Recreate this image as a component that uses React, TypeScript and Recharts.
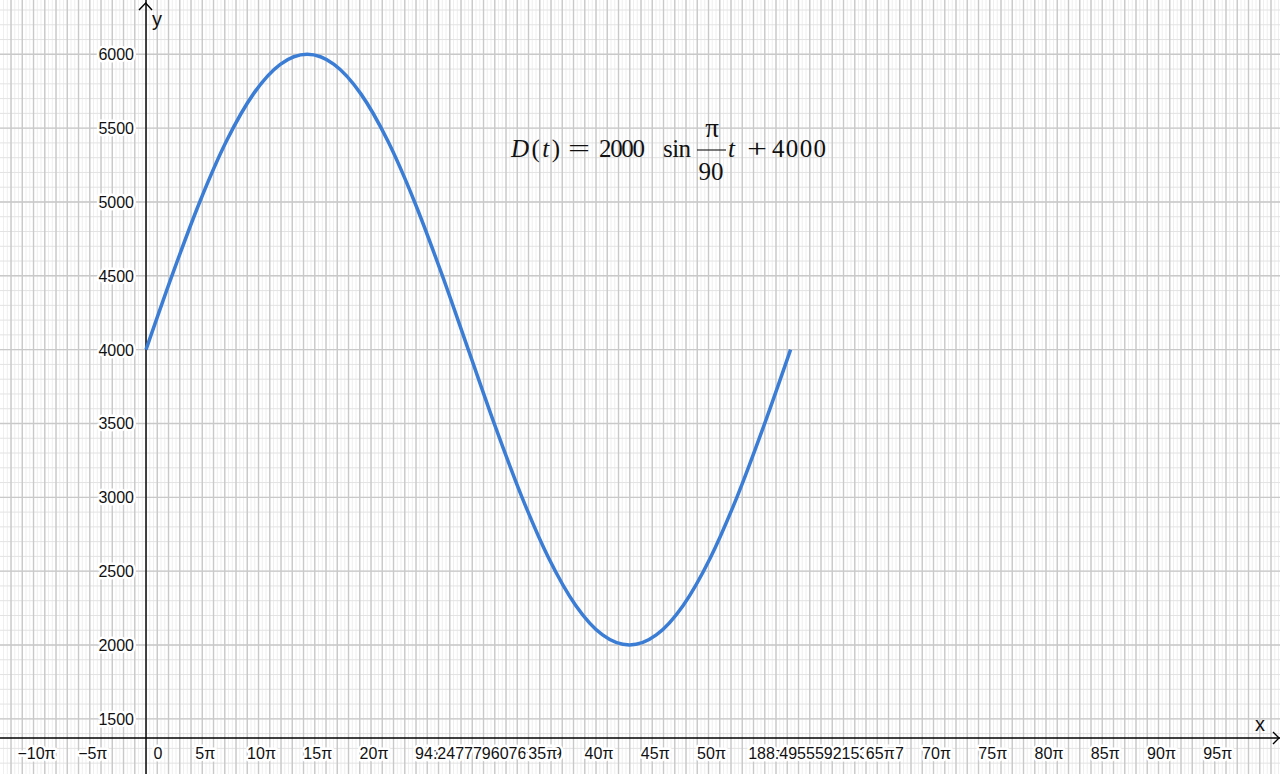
import React from 'react';
import {
  LineChart,
  Line,
  XAxis,
  YAxis,
  ReferenceLine,
  ReferenceDot,
} from 'recharts';

const PI = Math.PI;

// t values and D(t)
const tValues = [0, 7.5, 15, 22.5, 30, 37.5, 45, 52.5, 60, 67.5, 75, 82.5, 90, 97.5, 105, 112.5, 120, 127.5, 135, 142.5, 150, 157.5, 165, 172.5, 180];
const dValues = [4000, 4518, 5000, 5414, 5732, 5932, 6000, 5932, 5732, 5414, 5000, 4518, 4000, 3482, 3000, 2586, 2268, 2068, 2000, 2068, 2268, 2586, 3000, 3482, 4000];

// x tick labels are multiples of π
const xTickMultiples = [-10, -5, 0, 5, 10, 15, 20, 25, 30, 35, 40, 45, 50, 55, 60, 65, 70, 75, 80, 85, 90, 95];
const yTicks = [1500, 2000, 2500, 3000, 3500, 4000, 4500, 5000, 5500, 6000];

// decimal labels that GeoGebra printed on top of 30π and 60π
const collidingLabels: Record<number, string> = {
  30: '94.24777960769379',
  60: '188.49555921538757',
};

const data = tValues.map((t, i) => ({ t, d: dValues[i] }));

const X_MIN = -12.98 * PI;
const X_MAX = 100.8 * PI;
const Y_MIN = 1126.5;
const Y_MAX = 6367.7;
const X_AXIS_AT = 1370;

const range = (from: number, to: number, step: number) => {
  const out: number[] = [];
  for (let v = from; v <= to + 1e-9; v += step) out.push(v);
  return out;
};

// grid: light lines every π/3 and 100, darker every π and 500
const minorX = range(-13 * PI, 101 * PI, PI / 3);
const majorX = range(-13 * PI, 101 * PI, PI);
const minorY = range(1200, 6300, 100);
const majorY = range(1500, 6000, 500);

const FONT = '"Liberation Sans", Arial, sans-serif';

const halo = {
  stroke: '#fff',
  strokeWidth: 5,
  strokeLinejoin: 'round' as const,
  paintOrder: 'stroke' as const,
};

// label drawn at the reference dot placed on the x axis
const XLabel = ({ viewBox, k }: any) => {
  if (!viewBox) return null;
  const x = viewBox.x + (viewBox.width || 0) / 2;
  const y = viewBox.y + (viewBox.height || 0) / 2;
  const label = k === 0 ? '0' : `${k < 0 ? '\u2212' : ''}${Math.abs(k)}π`;
  const extra = collidingLabels[k];
  return (
    <g>
      {extra && (
        <text x={x + 5} y={y + 21} textAnchor="middle" fontFamily={FONT} fontSize={16} fill="#111" {...halo}>
          {extra}
        </text>
      )}
      <text
        x={extra ? x + 58 : x + (k === 0 ? 12 : 3)}
        y={y + 21}
        textAnchor="middle"
        fontFamily={FONT}
        fontSize={16}
        fill="#111"
        {...halo}
      >
        {label}
      </text>
    </g>
  );
};

const YLabel = ({ viewBox, value }: any) => {
  if (!viewBox) return null;
  const x = viewBox.x + (viewBox.width || 0) / 2;
  const y = viewBox.y + (viewBox.height || 0) / 2;
  return (
    <text x={x - 12} y={y + 6} textAnchor="end" fontFamily={FONT} fontSize={16} fill="#111" {...halo}>
      {value}
    </text>
  );
};

const App = () => {
  return (
    <div style={{ position: 'relative', width: 1280, height: 774, background: '#fff', overflow: 'hidden' }}>
      <style>{'body { margin: 0; }'}</style>
      <LineChart width={1280} height={774} data={data} margin={{ top: 0, right: 0, bottom: 0, left: 0 }}>
        <XAxis
          dataKey="t"
          type="number"
          domain={[X_MIN, X_MAX]}
          allowDataOverflow
          tick={false}
          axisLine={false}
          tickLine={false}
          height={0}
        />
        <YAxis
          type="number"
          domain={[Y_MIN, Y_MAX]}
          allowDataOverflow
          tick={false}
          axisLine={false}
          tickLine={false}
          width={0}
        />
        {minorX.map((v, i) => (
          <ReferenceLine key={`mx${i}`} x={v} stroke="#efefef" strokeWidth={1} />
        ))}
        {minorY.map((v) => (
          <ReferenceLine key={`my${v}`} y={v} stroke="#e3e3e3" strokeWidth={1} />
        ))}
        {majorX.map((v, i) => (
          <ReferenceLine key={`Mx${i}`} x={v} stroke="#c9c9c9" strokeWidth={1.4} />
        ))}
        {majorY.map((v) => (
          <ReferenceLine key={`My${v}`} y={v} stroke="#c9c9c9" strokeWidth={1.4} />
        ))}
        <ReferenceLine x={0} stroke="#000" strokeWidth={1.4} />
        <ReferenceLine y={X_AXIS_AT} stroke="#000" strokeWidth={1.4} />
        <Line
          type="monotone"
          dataKey="d"
          stroke="#3b7dd4"
          strokeWidth={3.5}
          dot={false}
          activeDot={false}
          isAnimationActive={false}
        />
        {xTickMultiples.map((k) => (
          <ReferenceDot
            key={`x${k}`}
            x={k * PI}
            y={X_AXIS_AT}
            r={0}
            fill="none"
            stroke="none"
            ifOverflow="visible"
            label={<XLabel k={k} />}
          />
        ))}
        {yTicks.map((v) => (
          <ReferenceDot
            key={`y${v}`}
            x={0}
            y={v}
            r={0}
            fill="none"
            stroke="none"
            ifOverflow="visible"
            label={<YLabel value={v} />}
          />
        ))}
      </LineChart>

      <svg width={1280} height={774} style={{ position: 'absolute', left: 0, top: 0, pointerEvents: 'none' }}>
        {/* axis arrows and names */}
        <polyline points="139,10 145.7,3 152,10" fill="none" stroke="#000" strokeWidth={1.4} />
        <polyline points="1273,732 1279,738 1273,744" fill="none" stroke="#000" strokeWidth={1.4} />
        <text x={152} y={26} fontFamily={FONT} fontSize={20} fill="#111">y</text>
        <text x={1255} y={731} fontFamily={FONT} fontSize={20} fill="#111">x</text>

        {/* formula */}
        <g fontFamily='"Liberation Serif", "DejaVu Serif", serif' fontSize={25} fill="#111">
          <text x={511} y={157} textLength={49} lengthAdjust="spacing">
            <tspan fontStyle="italic">D</tspan>(<tspan fontStyle="italic">t</tspan>)
          </text>
          <text x={568} y={157} textLength={22} lengthAdjust="spacingAndGlyphs">=</text>
          <text x={599} y={157} textLength={46} lengthAdjust="spacing">2000</text>
          <text x={663} y={157} textLength={28} lengthAdjust="spacing">sin</text>
          <text x={712} y={137} textAnchor="middle" fontSize={27}>π</text>
          <line x1={697} x2={726} y1={150} y2={150} stroke="#111" strokeWidth={1.1} />
          <text x={711} y={180} textAnchor="middle">90</text>
          <text x={728} y={157} fontStyle="italic">t</text>
          <text x={747} y={157} textLength={20} lengthAdjust="spacingAndGlyphs">+</text>
          <text x={772} y={157} textLength={54} lengthAdjust="spacing">4000</text>
        </g>
      </svg>
    </div>
  );
};

export default App;
